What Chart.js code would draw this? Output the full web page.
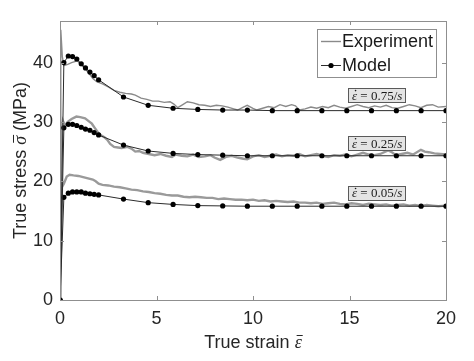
<!DOCTYPE html>
<html><head><meta charset="utf-8">
<script src="https://cdn.jsdelivr.net/npm/chart.js@4"></script>
<style>html,body{margin:0;padding:0;background:#fff}#wrap{width:474px;height:361px}</style>
</head><body><div id="wrap"><canvas id="c" width="474" height="361"></canvas></div>
<script>
// ---------- data ----------
const xTicks = [0, 5, 10, 15, 20];
const yTicks = [0, 10, 20, 30, 40];
const rateLabels = ['0.75', '0.25', '0.05'];
const xTitle = ['True strain ', 'ε'];
const yTitle = ['True stress ', 'σ', ' (MPa)'];

const modelStrain = [0, 0.2, 0.43, 0.65, 0.87, 1.1, 1.32, 1.55, 1.77, 2.0, 3.29, 4.57, 5.86, 7.14, 8.43, 9.71, 11.0, 12.29, 13.57, 14.86, 16.14, 17.43, 18.71, 20.0];
const model075 = [0, 40.0, 41.1, 41.0, 40.6, 39.8, 39.1, 38.4, 37.8, 37.1, 34.2, 32.8, 32.3, 32.1, 32.0, 32.0, 31.9, 31.9, 31.9, 31.9, 31.9, 31.9, 31.9, 31.9];
const model025 = [0, 29.0, 29.6, 29.6, 29.4, 29.1, 28.8, 28.6, 28.2, 27.8, 26.1, 25.1, 24.7, 24.5, 24.4, 24.3, 24.3, 24.3, 24.3, 24.3, 24.3, 24.3, 24.3, 24.3];
const model005 = [0, 17.3, 18.0, 18.2, 18.2, 18.2, 18.0, 17.9, 17.8, 17.7, 17.0, 16.4, 16.1, 15.9, 15.85, 15.8, 15.8, 15.8, 15.8, 15.8, 15.8, 15.8, 15.8, 15.8];

const exp075Strain = [0, 0.04, 0.12, 0.2, 0.4, 0.6, 0.9, 1.1, 1.3, 1.5, 1.7, 1.9, 2.2, 2.5, 2.8, 3.1, 3.4, 3.7, 3.9, 4.2, 4.5, 4.8, 5.1, 5.4, 5.7, 5.9, 6.1, 6.3, 6.6, 6.9, 7.2, 7.5, 7.8, 8.1, 8.4, 8.7, 9.0, 9.2, 9.5, 9.7, 10.0, 10.2, 10.5, 10.8, 11.1, 11.4, 11.7, 12.0, 12.2, 12.4, 12.7, 13.0, 13.3, 13.6, 13.9, 14.2, 14.5, 14.8, 15.1, 15.4, 15.7, 16.0, 16.3, 16.6, 16.9, 17.2, 17.5, 17.8, 18.1, 18.4, 18.7, 19.0, 19.3, 19.6, 20.0];
const exp075Stress = [0, 45.5, 41.0, 39.5, 39.7, 40.0, 40.3, 39.6, 39.0, 38.2, 37.3, 36.8, 36.4, 35.9, 35.3, 35.0, 34.8, 34.7, 34.5, 34.0, 33.8, 33.5, 33.5, 33.3, 33.4, 33.0, 32.4, 32.8, 33.4, 33.2, 32.9, 32.8, 32.6, 32.8, 32.7, 32.5, 32.2, 32.0, 32.5, 32.8, 32.3, 32.0, 32.3, 32.6, 32.4, 32.9, 32.6, 32.9, 32.7, 32.0, 32.2, 32.5, 32.3, 32.6, 32.4, 32.8, 32.5, 32.3, 32.6, 32.9, 32.6, 32.4, 32.7, 32.5, 32.8, 32.4, 32.3, 32.6, 32.9, 32.7, 32.4, 32.8, 32.9, 32.5, 32.6];

const exp025Strain = [0, 0.08, 0.15, 0.25, 0.4, 0.6, 0.85, 1.05, 1.3, 1.5, 1.65, 1.8, 1.95, 2.1, 2.3, 2.45, 2.6, 2.8, 3.0, 3.2, 3.5, 3.7, 3.9, 4.1, 4.3, 4.6, 4.9, 5.2, 5.5, 5.8, 6.0, 6.3, 6.6, 6.9, 7.2, 7.5, 7.8, 8.0, 8.3, 8.6, 8.9, 9.2, 9.5, 9.7, 10.0, 10.3, 10.6, 10.9, 11.2, 11.5, 11.8, 12.1, 12.4, 12.7, 13.0, 13.3, 13.6, 13.9, 14.2, 14.5, 14.8, 15.1, 15.4, 15.7, 16.0, 16.3, 16.6, 17.0, 17.2, 17.4, 17.7, 18.0, 18.3, 18.7, 18.9, 19.1, 19.4, 19.7, 20.0];
const exp025Stress = [0, 28.5, 30.2, 29.4, 30.0, 30.5, 30.9, 30.8, 30.6, 30.1, 29.7, 29.0, 28.3, 27.8, 27.4, 27.0, 26.3, 25.8, 25.7, 25.6, 25.8, 25.5, 25.0, 25.1, 24.8, 24.6, 24.4, 24.6, 24.3, 24.1, 24.5, 24.3, 24.2, 24.5, 24.1, 24.2, 24.4, 24.0, 23.6, 24.1, 24.3, 24.0, 23.8, 23.7, 24.2, 24.4, 24.1, 24.3, 24.5, 24.2, 24.4, 24.3, 24.6, 24.2, 24.4, 24.6, 24.3, 24.1, 24.4, 24.3, 24.5, 24.2, 24.5, 24.8, 24.5, 24.4, 24.6, 25.2, 24.9, 24.4, 24.6, 24.8, 24.5, 25.3, 25.0, 24.9, 24.7, 24.6, 24.5];

const exp005Strain = [0, 0.1, 0.2, 0.35, 0.5, 0.7, 0.95, 1.2, 1.45, 1.7, 1.85, 2.0, 2.2, 2.5, 2.8, 3.1, 3.4, 3.7, 4.0, 4.3, 4.6, 4.9, 5.2, 5.5, 5.8, 6.1, 6.4, 6.7, 7.0, 7.3, 7.6, 7.9, 8.2, 8.5, 8.8, 9.1, 9.4, 9.7, 10.0, 10.3, 10.6, 10.9, 11.2, 11.5, 11.8, 12.1, 12.4, 12.7, 13.0, 13.3, 13.6, 13.9, 14.2, 14.5, 14.8, 15.1, 15.4, 15.7, 16.0, 16.3, 16.6, 16.9, 17.2, 17.5, 17.8, 18.1, 18.4, 18.7, 19.0, 19.3, 19.6, 20.0];
const exp005Stress = [0, 19.0, 19.6, 20.8, 21.1, 21.0, 20.9, 20.7, 20.5, 20.3, 20.0, 19.6, 19.4, 19.3, 19.1, 19.0, 18.8, 18.6, 18.5, 18.3, 18.2, 18.0, 17.9, 17.7, 17.6, 17.6, 17.4, 17.3, 17.4, 17.3, 17.2, 17.2, 17.0, 17.1, 17.0, 16.9, 16.9, 16.8, 16.9, 16.7, 16.8, 16.6, 16.7, 16.6, 16.5, 16.6, 16.4, 16.4, 16.3, 16.4, 16.2, 16.3, 16.4, 16.2, 16.1, 16.3, 16.2, 16.0, 16.2, 16.1, 16.0, 16.1, 15.9, 16.0, 16.1, 15.9, 16.0, 15.8, 16.0, 15.9, 15.8, 15.9];

// ---------- build ----------
const pts = (xs, ys) => xs.map((x, i) => ({x: x, y: ys[i]}));
const FONT = "'Liberation Sans', Arial, sans-serif";
const AXIS = '#8f8f8f';
const TXT = '#262626';

const expStyle = (w, c) => ({borderColor: c, borderWidth: w, pointRadius: 0, showLine: true, fill: false, tension: 0, order: 2});
const modelStyle = {borderColor: '#2b2b2b', borderWidth: 1, pointRadius: 2.6, pointBackgroundColor: '#000', pointBorderWidth: 0, showLine: true, fill: false, tension: 0, order: 1};

const datasets = [
  Object.assign({label: 'Experiment', data: pts(exp075Strain, exp075Stress)}, expStyle(1.4, '#8a8a8a')),
  Object.assign({label: 'Experiment', data: pts(exp025Strain, exp025Stress)}, expStyle(2.4, '#9a9a9a')),
  Object.assign({label: 'Experiment', data: pts(exp005Strain, exp005Stress)}, expStyle(2.4, '#9a9a9a')),
  Object.assign({label: 'Model', data: pts(modelStrain, model075)}, modelStyle),
  Object.assign({label: 'Model', data: pts(modelStrain, model025)}, modelStyle),
  Object.assign({label: 'Model', data: pts(modelStrain, model005)}, modelStyle)
];

const labelAnchors = [[16.4, 34.6], [16.4, 26.5], [16.4, 18.1]];

// draws a text run of [plain, italic-with-bar, plain...] horizontally starting at x (already in local coords)
function barredTitle(ctx, parts, cx, cy) {
  const fPlain = '18px ' + FONT, fIt = "italic 18px 'Liberation Serif', serif";
  const widths = parts.map((p, i) => { ctx.font = (i % 2 === 1) ? fIt : fPlain; return ctx.measureText(p).width; });
  const total = widths.reduce((s, w) => s + w, 0);
  let x = cx - total / 2;
  ctx.textBaseline = 'middle'; ctx.textAlign = 'left'; ctx.fillStyle = TXT;
  parts.forEach((p, i) => {
    ctx.font = (i % 2 === 1) ? fIt : fPlain;
    ctx.fillText(p, x, cy);
    if (i % 2 === 1) {
      ctx.strokeStyle = TXT; ctx.lineWidth = 1;
      ctx.beginPath(); ctx.moveTo(x + 2, cy - 7.5); ctx.lineTo(x + widths[i] + 1, cy - 7.5); ctx.stroke();
    }
    x += widths[i];
  });
}

const decor = {
  id: 'decor',
  afterDraw(chart) {
    const ctx = chart.ctx, a = chart.chartArea, xs = chart.scales.x, ys = chart.scales.y;
    ctx.save();
    // box
    ctx.strokeStyle = AXIS; ctx.lineWidth = 1;
    ctx.strokeRect(Math.round(a.left) + 0.5, Math.round(a.top) + 0.5, Math.round(a.right - a.left), Math.round(a.bottom - a.top));
    // inward ticks, mirrored
    const tl = 4;
    ctx.beginPath();
    xTicks.forEach(v => {
      const p = Math.round(xs.getPixelForValue(v)) + 0.5;
      ctx.moveTo(p, a.bottom); ctx.lineTo(p, a.bottom - tl);
      ctx.moveTo(p, a.top); ctx.lineTo(p, a.top + tl);
    });
    yTicks.forEach(v => {
      const p = Math.round(ys.getPixelForValue(v)) + 0.5;
      ctx.moveTo(a.left, p); ctx.lineTo(a.left + tl, p);
      ctx.moveTo(a.right, p); ctx.lineTo(a.right - tl, p);
    });
    ctx.stroke();

    // axis titles
    barredTitle(ctx, xTitle, (a.left + a.right) / 2, 343);
    ctx.save();
    ctx.translate(21, (a.top + a.bottom) / 2);
    ctx.rotate(-Math.PI / 2);
    barredTitle(ctx, yTitle, 0, 0);
    ctx.restore();

    // rate labels
    labelAnchors.forEach((pos, i) => {
      const cx = xs.getPixelForValue(pos[0]), cy = ys.getPixelForValue(pos[1]);
      const fIt = "italic 13px 'Liberation Serif', serif";
      const fUp = "13px 'Liberation Serif', serif";
      const p1 = 'ε', p2 = ' = ' + rateLabels[i] + '/', p3 = 's';
      ctx.font = fIt; const w1 = ctx.measureText(p1).width; const w3 = ctx.measureText(p3).width;
      ctx.font = fUp; const w2 = ctx.measureText(p2).width;
      const tw = w1 + w2 + w3, bw = Math.round(tw + 7), bh = 14;
      const bx = Math.round(cx - bw / 2) + 0.5, by = Math.round(cy - bh / 2) + 0.5;
      ctx.fillStyle = '#e4e4e4'; ctx.fillRect(bx, by, bw, bh);
      ctx.strokeStyle = '#5a5a5a'; ctx.lineWidth = 1; ctx.strokeRect(bx, by, bw, bh);
      ctx.fillStyle = '#1a1a1a'; ctx.textBaseline = 'middle'; ctx.textAlign = 'left';
      let tx = bx + 3.5;
      ctx.font = fIt; ctx.fillText(p1, tx, cy + 1.5);
      // dot above epsilon
      ctx.beginPath(); ctx.arc(tx + w1 / 2 + 1, cy - 4, 0.8, 0, Math.PI * 2); ctx.fill();
      tx += w1;
      ctx.font = fUp; ctx.fillText(p2, tx, cy + 1.5); tx += w2;
      ctx.font = fIt; ctx.fillText(p3, tx, cy + 1.5);
    });

    // legend
    const lx = 317.5, ly = 29.5, lw = 119, lh = 48;
    ctx.fillStyle = '#fff'; ctx.fillRect(lx, ly, lw, lh);
    ctx.strokeStyle = AXIS; ctx.lineWidth = 1; ctx.strokeRect(lx, ly, lw, lh);
    ctx.font = '18px ' + FONT; ctx.fillStyle = '#1a1a1a'; ctx.textBaseline = 'middle'; ctx.textAlign = 'left';
    ctx.strokeStyle = '#8a8a8a'; ctx.lineWidth = 1.4;
    ctx.beginPath(); ctx.moveTo(321, 41.5); ctx.lineTo(341, 41.5); ctx.stroke();
    ctx.fillText('Experiment', 342, 42);
    ctx.strokeStyle = '#2b2b2b'; ctx.lineWidth = 1;
    ctx.beginPath(); ctx.moveTo(321, 65.5); ctx.lineTo(341, 65.5); ctx.stroke();
    ctx.fillStyle = '#000'; ctx.beginPath(); ctx.arc(331, 65.5, 2.6, 0, Math.PI * 2); ctx.fill();
    ctx.fillStyle = '#1a1a1a'; ctx.fillText('Model', 342, 66);
    ctx.restore();
  }
};

new Chart(document.getElementById('c'), {
  type: 'scatter',
  data: {datasets: datasets},
  options: {
    responsive: false, animation: false, devicePixelRatio: 1,
    layout: {padding: {left: 0, top: 21, right: 28, bottom: 0}},
    plugins: {legend: {display: false}, tooltip: {enabled: false}},
    scales: {
      x: {
        type: 'linear', min: 0, max: 20,
        grid: {display: false, drawTicks: false}, border: {display: false},
        afterBuildTicks: s => { s.ticks = xTicks.map(v => ({value: v})); },
        afterFit: s => { s.height = 61; },
        ticks: {padding: 8, color: TXT, font: {family: FONT, size: 18}, maxRotation: 0, autoSkip: false},
        title: {display: false}
      },
      y: {
        type: 'linear', min: 0, max: 47,
        grid: {display: false, drawTicks: false}, border: {display: false},
        afterBuildTicks: s => { s.ticks = yTicks.map(v => ({value: v})); },
        afterFit: s => { s.width = 60; },
        ticks: {padding: 7, color: TXT, font: {family: FONT, size: 18}, autoSkip: false},
        title: {display: false}
      }
    }
  },
  plugins: [decor]
});
</script>
</body></html>
